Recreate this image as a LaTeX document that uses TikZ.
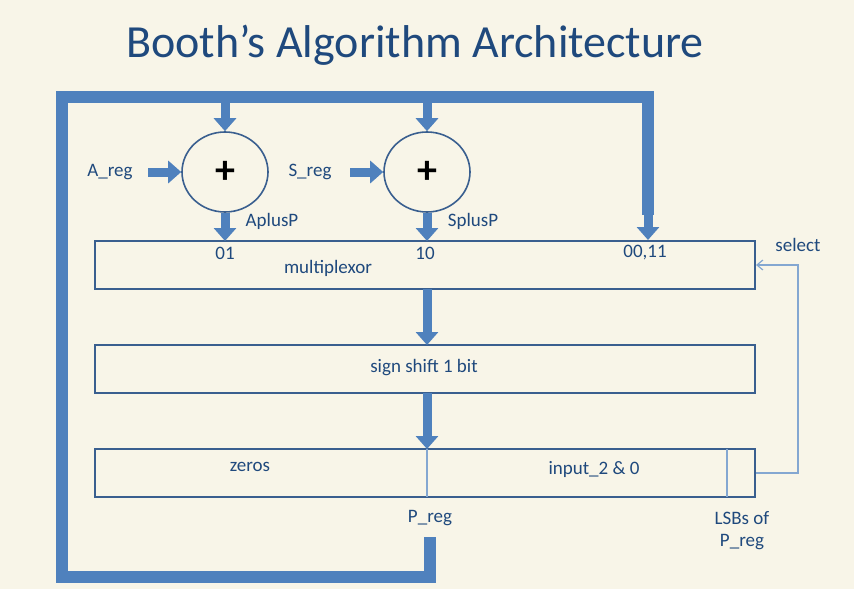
\documentclass[tikz,border=0pt]{standalone}
\usepackage{fontspec}
\setmainfont{Carlito}
\usetikzlibrary{arrows.meta,shapes.geometric}
\definecolor{bg}{HTML}{F8F5E8}
\definecolor{fat}{HTML}{4F81BD}
\definecolor{edge}{HTML}{3A5F8F}
\definecolor{txt}{HTML}{1F497D}
\begin{document}
\begin{tikzpicture}[x=1pt,y=-1pt,
  fatline/.style={draw=fat,line width=12pt},
  fatarrow/.style={draw=fat,line width=9pt,-{Triangle[width=22pt,length=13pt]}},
  box/.style={draw=edge,line width=2pt,fill=none,rectangle,inner sep=0},
  adder/.style={draw=edge,line width=1.6pt,ellipse,minimum width=86pt,minimum height=80pt},
  lbl/.style={text=txt,font=\fontsize{19}{22}\selectfont,inner sep=1pt},
  thin/.style={draw=fat!70,line width=1.2pt}]
\fill[bg] (0,0) rectangle (854,589);
\useasboundingbox (0,0) rectangle (854,589);
\node[text=txt,font=\fontsize{46}{50}\selectfont] (title) at (415,45) {Booth’s Algorithm Architecture};
% boxes
\node[box,minimum width=660pt,minimum height=48pt] (mux) at (425,265) {};
\node[box,minimum width=660pt,minimum height=48pt] (shift) at (425,369) {};
\node[box,minimum width=660pt,minimum height=48pt] (preg) at (425,473) {};
\node[lbl] (muxl) at (328,268) {multiplexor};
\node[lbl] (shl) at (424,368) {sign shift 1 bit};
\node[lbl] (zeros) at (250,467) {zeros};
\node[lbl] (inp) at (594,469) {input\_2 \& 0};
\draw[thin] (427,449) -- (427,497);
\draw[thin] (727,449) -- (727,497);
% adders
\node[adder,lbl,font=\fontsize{40}{40}\selectfont\bfseries,text=black] (add1) at (225,172) {+};
\node[adder,lbl,font=\fontsize{40}{40}\selectfont\bfseries,text=black] (add2) at (427,172) {+};
\node[lbl] (areg) at (110,172) {A\_reg};
\node[lbl] (sreg) at (310,172) {S\_reg};
\draw[fatarrow] (148,172) -- (add1.west);
\draw[fatarrow] (350,172) -- (add2.west);
\node[lbl] (aplusp) at (272,221) {AplusP};
\node[lbl] (splusp) at (473,221) {SplusP};
\node[lbl] (i01) at (225,253) {01};
\node[lbl] (i10) at (425,253) {10};
\node[lbl] (i0011) at (645,253) {00,11};
\node[lbl] (sel) at (798,245) {select};
\node[lbl] (pl) at (430,518) {P\_reg};
\node[lbl,align=center] (lsb) at (742,531) {LSBs of\\P\_reg};
% feedback loop
\coordinate (b0) at (430,537);
\coordinate (b1) at (430,577);
\coordinate (c1) at (62,577);
\coordinate (c2) at (62,97);
\coordinate (c3) at (648,97);
\draw[fatline,line cap=butt,line join=miter] (b0) -- (b1) -- (c1) -- (c2) -- (c3) -- (648,215);
\draw[fatarrow] (648,214) -- (648,240);
\draw[fatarrow] (225,91) -- (add1.north);
\draw[fatarrow] (427,91) -- (add2.north);
\draw[fatarrow] (add1.south) -- (225,241);
\draw[fatarrow] (add2.south) -- (427,241);
\draw[fatarrow] (427,289) -- (427,345);
\draw[fatarrow] (427,393) -- (427,449);
% select
\draw[thin,-{Straight Barb[length=6pt,width=10pt]}] (preg.east) -- (798,473) -- (798,265) -- (mux.east);
\end{tikzpicture}
\end{document}
